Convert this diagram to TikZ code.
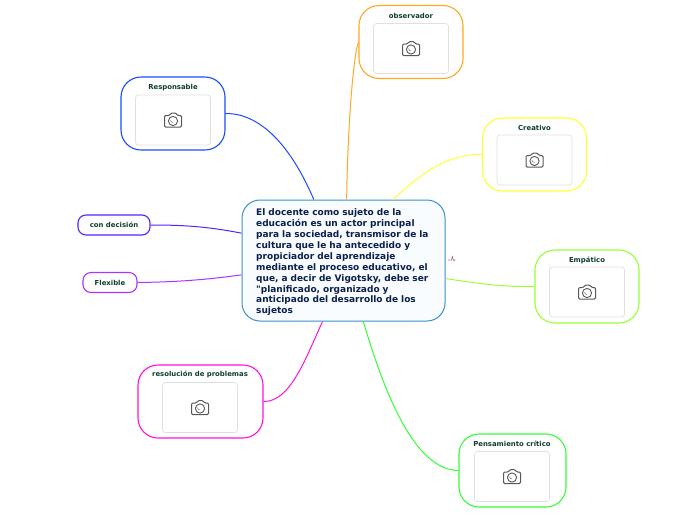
\documentclass[tikz,border=0pt]{standalone}
\usepackage{fontspec}
\setmainfont{DejaVu Sans}
\newfontfamily\plainquotes{DejaVu Sans}
\usetikzlibrary{positioning}
\definecolor{inkcentre}{HTML}{0B1F4D}
\definecolor{inklabel}{HTML}{0F3D2E}
\definecolor{framecentre}{HTML}{3A8FD0}
\definecolor{fillcentre}{HTML}{F8FCFE}
\definecolor{cobservador}{HTML}{FFA726}
\definecolor{cresponsable}{HTML}{1A4CFF}
\definecolor{ccreativo}{HTML}{FFFF33}
\definecolor{cempatico}{HTML}{99FF33}
\definecolor{cpensamiento}{HTML}{33FF33}
\definecolor{cresolucion}{HTML}{FF11DD}
\definecolor{cdecision}{HTML}{5522FF}
\definecolor{cflexible}{HTML}{AA33FF}
\tikzset{
  centrebox/.style={draw=framecentre,fill=fillcentre,line width=1pt,rounded corners=18pt,
    minimum width=203pt,minimum height=121pt},
  topicbox/.style={draw=#1,line width=1.1pt,fill=white,rounded corners=20pt,minimum height=73pt},
  smallbox/.style={draw=#1,line width=1.1pt,fill=white,rounded corners=8pt,minimum height=20pt,inner sep=0pt},
  photobox/.style={draw=black!12,fill=white,line width=0.7pt,rounded corners=3pt,minimum width=75pt,minimum height=50pt},
  toplabel/.style={font=\bfseries\fontsize{6.9}{9}\selectfont,text=inklabel,inner sep=0pt},
  link/.style={line width=1pt},
  camicon/.pic={
    \draw[black!65,line width=1pt,rounded corners=1.2pt] (-8.5,-4.5) -- (-3.5,-4.5) -- (-2,-7) -- (3,-7) -- (4.5,-4.5) -- (8.5,-4.5) -- (8.5,7) -- (-8.5,7) -- cycle;
    \draw[black!65,line width=0.9pt] (0,1) circle (4.6pt);
    \draw[black!55,line width=0.5pt] (-2.5,0) arc (180:270:2.5pt);
  }
}
\begin{document}
\begin{tikzpicture}[x=1pt,y=-1pt]
\useasboundingbox (0,0) rectangle (696,520);
% central idea
\node[centrebox] (centre) at (343.5,260.5) {};
\node[anchor=north west,text width=180pt,inner sep=0pt,text=inkcentre,
  font=\plainquotes\bfseries\fontsize{9}{10.9}\selectfont,align=left] (centretext) at (256,208.7)
  {El docente como sujeto de la\\ educación es un actor principal\\ para la sociedad, transmisor de la\\ cultura que le ha antecedido y\\ propiciador del aprendizaje\\ mediante el proceso educativo, el\\ que, a decir de Vigotsky, debe ser\\ "planificado, organizado y\\ anticipado del desarrollo de los\\ sujetos};
% topics with a picture
\node[topicbox=cobservador,minimum width=104pt] (observador) at (411,42) {};
\node[photobox] (photoobservador) at (411,48.5) {};
\node[toplabel,above=4pt of photoobservador] (labelobservador) {observador};
\pic at (photoobservador.center) {camicon};
\node[topicbox=cresponsable,minimum width=104pt] (responsable) at (173,113.5) {};
\node[photobox] (photoresponsable) at (173,120) {};
\node[toplabel,above=4pt of photoresponsable] (labelresponsable) {Responsable};
\pic at (photoresponsable.center) {camicon};
\node[topicbox=ccreativo,minimum width=104pt] (creativo) at (534.5,154.5) {};
\node[photobox] (photocreativo) at (534.5,160) {};
\node[toplabel,above=4pt of photocreativo] (labelcreativo) {Creativo};
\pic at (photocreativo.center) {camicon};
\node[topicbox=cempatico,minimum width=104pt] (empatico) at (587,286.5) {};
\node[photobox] (photoempatico) at (587,292) {};
\node[toplabel,above=3pt of photoempatico] (labelempatico) {Empático};
\pic at (photoempatico.center) {camicon};
\node[topicbox=cpensamiento,minimum width=107pt] (pensamiento) at (512.5,470.5) {};
\node[photobox] (photopensamiento) at (512,476.5) {};
\node[toplabel,above=4pt of photopensamiento] (labelpensamiento) {Pensamiento crítico};
\pic at (photopensamiento.center) {camicon};
\node[topicbox=cresolucion,minimum width=125pt] (resolucion) at (200.5,401.5) {};
\node[photobox] (photoresolucion) at (200,407.5) {};
\node[toplabel,above=4pt of photoresolucion] (labelresolucion) {resolución de problemas};
\pic at (photoresolucion.center) {camicon};
% topics without a picture
\node[smallbox=cdecision,minimum width=72pt,toplabel] (decision) at (114,225) {con decisión};
\node[smallbox=cflexible,minimum width=54pt,toplabel] (flexible) at (110,282.5) {Flexible};
% connectors
\draw[link,cobservador] (centre.87.6) .. controls (347,150) and (352,60) .. (observador.west);
\draw[link,cresponsable] (centre.116) .. controls (295,155) and (265,113) .. (responsable.east);
\draw[link,ccreativo] (centre.51) .. controls (420,175) and (445,154) .. (creativo.west);
\draw[link,cempatico] (centre.-10.9) .. controls (480,284) and (505,287) .. (empatico.west);
\draw[link,cpensamiento] (centre.-72) .. controls (385,395) and (415,470) .. (pensamiento.west);
\draw[link,cresolucion] (centre.251) .. controls (305,360) and (290,402) .. (resolucion.east);
\draw[link,cdecision] (centre.165.4) .. controls (205,226) and (180,225) .. (decision.east);
\draw[link,cflexible] (centre.188.7) .. controls (205,280) and (175,282) .. (flexible.east);
% small mark beside the central idea
\coordinate (mark) at (452,260);
\fill[red!35] ([xshift=-3pt]mark) ellipse (1.4pt and 1pt);
\fill[red!35] ([xshift=2.5pt]mark) ellipse (1.4pt and 1pt);
\draw[black!55,line width=0.5pt] ([shift={(-1,1)}]mark) -- ([shift={(0.5,-3.5)}]mark) -- ([shift={(1.5,1)}]mark);
\end{tikzpicture}
\end{document}
